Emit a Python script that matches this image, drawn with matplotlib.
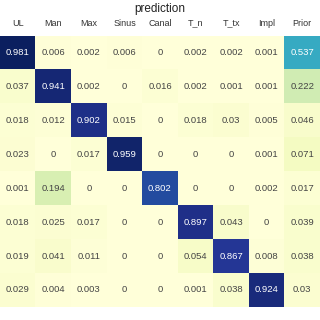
import matplotlib
matplotlib.use("Agg")
import matplotlib.pyplot as plt
import numpy as np

cols = ["UL", "Man", "Max", "Sinus", "Canal", "T_n", "T_tx", "Impl", "Prior"]
row0 = [0.981, 0.006, 0.002, 0.006, 0, 0.002, 0.002, 0.001, 0.537]
row1 = [0.037, 0.941, 0.002, 0, 0.016, 0.002, 0.001, 0.001, 0.222]
row2 = [0.018, 0.012, 0.902, 0.015, 0, 0.018, 0.03, 0.005, 0.046]
row3 = [0.023, 0, 0.017, 0.959, 0, 0, 0, 0.001, 0.071]
row4 = [0.001, 0.194, 0, 0, 0.802, 0, 0, 0.002, 0.017]
row5 = [0.018, 0.025, 0.017, 0, 0, 0.897, 0.043, 0, 0.039]
row6 = [0.019, 0.041, 0.011, 0, 0, 0.054, 0.867, 0.008, 0.038]
row7 = [0.029, 0.004, 0.003, 0, 0, 0.001, 0.038, 0.924, 0.03]
data = np.array([row0, row1, row2, row3, row4, row5, row6, row7])

plt.rcParams['font.family'] = ['Liberation Sans', 'DejaVu Sans']
fig = plt.figure(figsize=(3.2, 3.2), dpi=100)
ax = fig.add_axes([0.0, 0.041, 1.0, 0.847])
ax.imshow(data, cmap="YlGnBu", vmin=0, vmax=1, aspect="auto", interpolation="nearest")
for i in range(data.shape[0]):
    for j in range(data.shape[1]):
        v = data[i, j]
        txt = "0" if v == 0 else f"{v:g}"
        color = "white" if v > 0.5 else "#444444"
        ax.text(j, i, txt, ha="center", va="center", fontsize=6.8, color=color)
ax.set_xticks(range(len(cols)))
ax.set_xticklabels(cols, fontsize=6.5, color="#333333")
ax.xaxis.tick_top()
ax.tick_params(length=0, pad=6)
ax.set_yticks([])
for s in ax.spines.values():
    s.set_visible(False)
fig.text(0.5, 0.972, "prediction", ha="center", va="center", fontsize=8.5, color="#222222")
fig.savefig("out.png", dpi=100)
